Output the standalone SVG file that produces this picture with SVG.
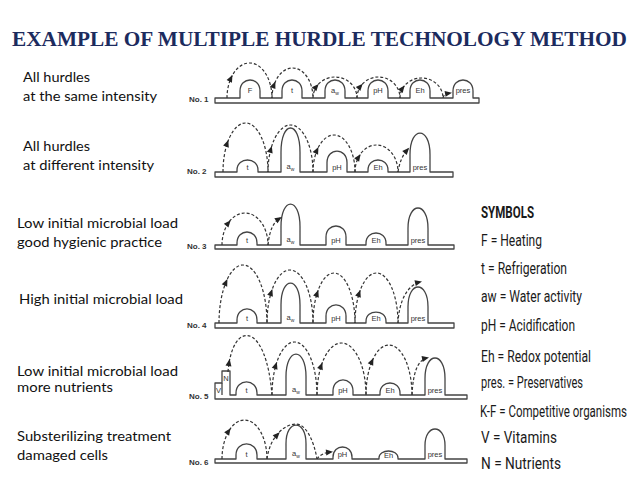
<svg xmlns="http://www.w3.org/2000/svg" xmlns:xlink="http://www.w3.org/1999/xlink" width="638" height="478" viewBox="0 0 638 478">
<defs>
<style>
.title{font-family:"Liberation Serif",serif;font-weight:bold;font-size:21px;fill:#1c2b5e}
.lbl{font-family:Lato,"Open Sans",sans-serif;font-size:14px;fill:#111}
.hur{fill:#fff;stroke:#444;stroke-width:1.3;stroke-linejoin:round}
.hl{font-family:"Liberation Sans",Arial,sans-serif;font-size:7.5px;fill:#333;text-anchor:middle}
.no{font-family:"Liberation Sans",Arial,sans-serif;font-size:8px;font-weight:bold;fill:#333}
.jump{fill:none;stroke:#333;stroke-width:1.2;stroke-dasharray:3 2}
.sym{font-family:Roboto,"Liberation Sans",sans-serif;font-size:16px;fill:#1a1a1a}
</style>
<path id="ah" d="M1,0 L-6,-3 L-6,3 Z" fill="#222"/>
</defs>
<rect width="638" height="478" fill="#fff"/>
<text class="title" x="12" y="46" textLength="615" lengthAdjust="spacingAndGlyphs">EXAMPLE OF MULTIPLE HURDLE TECHNOLOGY METHOD</text>

<g id="labels">
<text class="lbl" x="23" y="82" textLength="67" lengthAdjust="spacingAndGlyphs">All hurdles</text>
<text class="lbl" x="23" y="101" textLength="134" lengthAdjust="spacingAndGlyphs">at the same intensity</text>
<text class="lbl" x="23" y="151" textLength="67" lengthAdjust="spacingAndGlyphs">All hurdles</text>
<text class="lbl" x="23" y="170" textLength="131" lengthAdjust="spacingAndGlyphs">at different intensity</text>
<text class="lbl" x="17" y="228" textLength="161" lengthAdjust="spacingAndGlyphs">Low initial microbial load</text>
<text class="lbl" x="17" y="247" textLength="145" lengthAdjust="spacingAndGlyphs">good hygienic practice</text>
<text class="lbl" x="19" y="304" textLength="164" lengthAdjust="spacingAndGlyphs">High initial microbial load</text>
<text class="lbl" x="17" y="376" textLength="161" lengthAdjust="spacingAndGlyphs">Low initial microbial load</text>
<text class="lbl" x="17" y="392" textLength="96" lengthAdjust="spacingAndGlyphs">more nutrients</text>
<text class="lbl" x="17" y="441" textLength="154" lengthAdjust="spacingAndGlyphs">Substerilizing treatment</text>
<text class="lbl" x="17" y="460" textLength="91" lengthAdjust="spacingAndGlyphs">damaged cells</text>
</g>

<g id="row1">
<text class="no" x="189" y="102">No. 1</text>
<path class="hur" d="M215,98 H240 V91 C240,76.3 260,76.3 260,91 V98 H282 V91 C282,76.3 302,76.3 302,91 V98 H325 V91 C325,76.3 345,76.3 345,91 V98 H368 V91 C368,76.3 388,76.3 388,91 V98 H410 V91 C410,76.3 430,76.3 430,91 V98 H453 V91 C453,76.3 473,76.3 473,91 V98 H479 V103 H215 Z"/>
<text class="hl" x="250" y="93">F</text>
<text class="hl" x="292" y="93">t</text>
<text class="hl" x="335" y="93">a<tspan font-size="5" dy="1.5">w</tspan></text>
<text class="hl" x="378" y="93">pH</text>
<text class="hl" x="420" y="93">Eh</text>
<text class="hl" x="463" y="93">pres</text>
</g>

<g id="row2">
<text class="no" x="187" y="174">No. 2</text>
<path class="hur" d="M215,172 H237 V170.2 C237,156.6 258,156.6 258,170.2 V172 H281 V152.2 C281,119.9 300,119.9 300,152.2 V172 H327 V162.6 C327,147.2 347,147.2 347,162.6 V172 H368 V170.2 C368,156.6 388,156.6 388,170.2 V172 H410 V154.5 C410,125.9 430,125.9 430,154.5 V172 H453 V177 H215 Z"/>
<text class="hl" x="247.5" y="170">t</text>
<text class="hl" x="290.5" y="169">a<tspan font-size="5" dy="1.5">w</tspan></text>
<text class="hl" x="337" y="170">pH</text>
<text class="hl" x="378" y="170">Eh</text>
<text class="hl" x="420" y="170">pres</text>
</g>

<g id="row3">
<text class="no" x="187" y="249">No. 3</text>
<path class="hur" d="M215,245 H237 V243 C237,228.3 257,228.3 257,243 V245 H281 V226.6 C281,196.5 300,196.5 300,226.6 V245 H326 V237 C326,222.3 346,222.3 346,237 V245 H366 V243.2 C366,229.6 386,229.6 386,243.2 V245 H408 V228.4 C408,201.2 428,201.2 428,228.4 V245 H454 V249 H215 Z"/>
<text class="hl" x="247" y="243">t</text>
<text class="hl" x="290.5" y="242">a<tspan font-size="5" dy="1.5">w</tspan></text>
<text class="hl" x="336" y="243">pH</text>
<text class="hl" x="376" y="243">Eh</text>
<text class="hl" x="418" y="243">pres</text>
</g>

<g id="row4">
<text class="no" x="187" y="328">No. 4</text>
<path class="hur" d="M215,323 H237 V320 C237,305.3 257,305.3 257,320 V323 H281 V305 C281,275.7 300,275.7 300,305 V323 H326 V316 C326,301.3 346,301.3 346,316 V323 H366 V321.4 C366,308.9 386,308.9 386,321.4 V323 H408 V306.8 C408,280.4 428,280.4 428,306.8 V323 H454 V328 H215 Z"/>
<text class="hl" x="247" y="321">t</text>
<text class="hl" x="290.5" y="320">a<tspan font-size="5" dy="1.5">w</tspan></text>
<text class="hl" x="336" y="321">pH</text>
<text class="hl" x="376" y="321">Eh</text>
<text class="hl" x="418" y="321">pres</text>
</g>

<g id="row5">
<text class="no" x="189" y="399">No. 5</text>
<path class="hur" d="M215,399 V383 H222 V371 H230 V395 H236 V393 C236,378.3 257,378.3 257,393 V395 H286 V376.6 C286,346.5 306,346.5 306,376.6 V395 H333 V391 C333,376.3 353,376.3 353,391 V395 H380 V393.2 C380,379.6 400,379.6 400,393.2 V395 H425 V378.4 C425,351.2 445,351.2 445,378.4 V395 H467 V399 Z"/>
<path class="hur" d="M222,383 V395"/>
<text class="hl" x="218.5" y="393">V</text>
<text class="hl" x="226" y="381">N</text>
<text class="hl" x="246.5" y="393">t</text>
<text class="hl" x="296" y="392">a<tspan font-size="5" dy="1.5">w</tspan></text>
<text class="hl" x="343" y="393">pH</text>
<text class="hl" x="390" y="393">Eh</text>
<text class="hl" x="435" y="393">pres</text>
</g>

<g id="row6">
<text class="no" x="189" y="465">No. 6</text>
<path class="hur" d="M215,459 H236 V455 C236,440.3 257,440.3 257,455 V459 H286 V443.7 C286,418.8 306,418.8 306,443.7 V459 H333 V457.2 C333,443.6 352,443.6 352,457.2 V459 H379 V457.8 C379,448.7 398,448.7 398,457.8 V459 H425 V445.5 C425,423.5 445,423.5 445,445.5 V459 H467 V463 H215 Z"/>
<text class="hl" x="246.5" y="457">t</text>
<text class="hl" x="296" y="456">a<tspan font-size="5" dy="1.5">w</tspan></text>
<text class="hl" x="342.5" y="457">pH</text>
<text class="hl" x="388.5" y="457.5">Eh</text>
<text class="hl" x="435" y="457">pres</text>
</g>

<g id="connectors">
<path class="jump" d="M227,98 A22.5,35 0 0 1 272,98"/>
<path class="jump" d="M272,98 A20.5,30 0 0 1 313,98"/>
<path class="jump" d="M313,98 A22,21 0 0 1 357,98"/>
<path class="jump" d="M357,98 A21.5,21 0 0 1 400,98"/>
<path class="jump" d="M400,98 A21.5,20 0 0 1 443,98"/>
<path class="jump" d="M443,98 Q444,93 450,93"/>
<use xlink:href="#ah" transform="translate(232,76) rotate(-63)"/>
<use xlink:href="#ah" transform="translate(275,82.4) rotate(-67)"/>
<use xlink:href="#ah" transform="translate(318,84.7) rotate(-49)"/>
<use xlink:href="#ah" transform="translate(362,84.5) rotate(-49)"/>
<use xlink:href="#ah" transform="translate(404,86.4) rotate(-52)"/>
<use xlink:href="#ah" transform="translate(451,92.8) rotate(-10)"/>

<path class="jump" d="M223,172 A22.5,49 0 0 1 268,172"/>
<path class="jump" d="M268,172 A22.5,47 0 0 1 313,172"/>
<path class="jump" d="M313,172 A21,37 0 0 1 355,172"/>
<path class="jump" d="M355,172 A21.5,27 0 0 1 398,172"/>
<path class="jump" d="M398,172 Q400,158 408,149"/>
<use xlink:href="#ah" transform="translate(228,141) rotate(-70)"/>
<use xlink:href="#ah" transform="translate(271.5,147) rotate(-73)"/>
<use xlink:href="#ah" transform="translate(318,148) rotate(-64)"/>
<use xlink:href="#ah" transform="translate(360,155) rotate(-56)"/>
<use xlink:href="#ah" transform="translate(408.5,148.5) rotate(-48)"/>

<path class="jump" d="M222,245 A23,32 0 0 1 268,245"/>
<path class="jump" d="M268,245 Q270,224 280,218"/>
<use xlink:href="#ah" transform="translate(230,221) rotate(-50)"/>
<use xlink:href="#ah" transform="translate(281,217.5) rotate(-32)"/>

<path class="jump" d="M219,323 A24,58 0 0 1 267,323"/>
<path class="jump" d="M267,323 A23,53 0 0 1 313,323"/>
<path class="jump" d="M313,323 A21,50 0 0 1 355,323"/>
<path class="jump" d="M355,323 A21.5,50 0 0 1 398,323"/>
<path class="jump" d="M398,323 C399,300 408,285 420,282"/>
<use xlink:href="#ah" transform="translate(227,280) rotate(-65)"/>
<use xlink:href="#ah" transform="translate(272,290) rotate(-71)"/>
<use xlink:href="#ah" transform="translate(318,291) rotate(-70)"/>
<use xlink:href="#ah" transform="translate(360,291) rotate(-70)"/>
<use xlink:href="#ah" transform="translate(421,281.8) rotate(-13)"/>

<path class="jump" d="M228,372 C232,320 266,320 272,395"/>
<path class="jump" d="M272,395 A22.5,53 0 0 1 317,395"/>
<path class="jump" d="M317,395 A24.5,52 0 0 1 366,395"/>
<path class="jump" d="M366,395 A23,50 0 0 1 412,395"/>
<path class="jump" d="M412,395 C413,372 418,360 427,358"/>
<use xlink:href="#ah" transform="translate(229.5,360) rotate(-80)"/>
<use xlink:href="#ah" transform="translate(276.5,363) rotate(-72)"/>
<use xlink:href="#ah" transform="translate(322,363.5) rotate(-70)"/>
<use xlink:href="#ah" transform="translate(373,359) rotate(-65)"/>
<use xlink:href="#ah" transform="translate(428,357.8) rotate(-11)"/>

<path class="jump" d="M222,459 A22.5,39 0 0 1 267,459"/>
<path class="jump" d="M267,459 C270,436 285,424 296,424 C306,424 314,441 317,459"/>
<path class="jump" d="M317,459 Q321,453 331,452"/>
<use xlink:href="#ah" transform="translate(230,429) rotate(-56)"/>
<use xlink:href="#ah" transform="translate(279,433) rotate(-46)"/>
<use xlink:href="#ah" transform="translate(332,451.9) rotate(-5)"/>
</g>

<g id="legend">
<text class="sym" x="481" y="218" font-weight="bold" textLength="53" lengthAdjust="spacingAndGlyphs">SYMBOLS</text>
<text class="sym" x="481" y="246" textLength="61" lengthAdjust="spacingAndGlyphs">F = Heating</text>
<text class="sym" x="481" y="274" textLength="86" lengthAdjust="spacingAndGlyphs">t = Refrigeration</text>
<text class="sym" x="481" y="302" textLength="101" lengthAdjust="spacingAndGlyphs">aw = Water activity</text>
<text class="sym" x="481" y="331" textLength="94" lengthAdjust="spacingAndGlyphs">pH = Acidification</text>
<text class="sym" x="481" y="362" textLength="110" lengthAdjust="spacingAndGlyphs">Eh = Redox potential</text>
<text class="sym" x="481" y="388" textLength="102" lengthAdjust="spacingAndGlyphs">pres. = Preservatives</text>
<text class="sym" x="480" y="417" textLength="147" lengthAdjust="spacingAndGlyphs">K-F = Competitive organisms</text>
<text class="sym" x="481" y="443" textLength="76" lengthAdjust="spacingAndGlyphs">V = Vitamins</text>
<text class="sym" x="481" y="469" textLength="80" lengthAdjust="spacingAndGlyphs">N = Nutrients</text>
</g>
</svg>
